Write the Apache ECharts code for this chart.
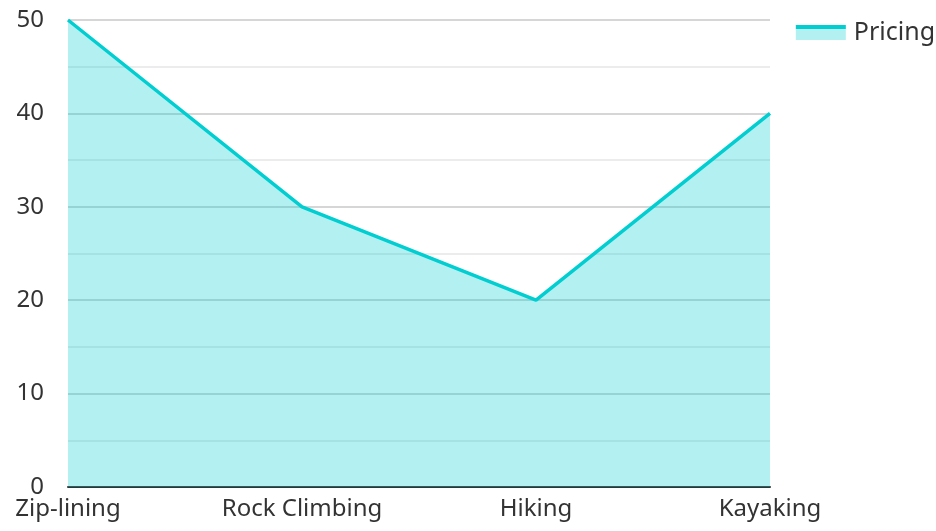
<!DOCTYPE html>
<html><head><meta charset="utf-8">
<script src="https://cdn.jsdelivr.net/npm/echarts@6/dist/echarts.min.js"></script>
<style>html,body{margin:0;padding:0;background:#fff}#c{width:936px;height:531px}</style>
</head><body><div id="c"></div>
<script>
const categories = ["Zip-lining", "Rock Climbing", "Hiking", "Kayaking"];
const pricing = [50, 30, 20, 40];
const seriesName = "Pricing";
const yTicks = [0, 10, 20, 30, 40, 50];

const chart = echarts.init(document.getElementById('c'), null, {renderer: 'canvas'});
const font = "'Noto Sans', sans-serif";
const teal = '#00CED1';
chart.setOption({
  animation: false,
  textStyle: {fontFamily: font},
  legend: {
    data: [{name: seriesName, icon: 'rect'}], right: -4, top: 15, itemWidth: 50, itemHeight: 15, itemGap: 8,
    itemStyle: {
      color: new echarts.graphic.LinearGradient(0, 0, 0, 1, [
        {offset: 0, color: teal}, {offset: 0.27, color: teal},
        {offset: 0.27, color: '#b2f0f1'}, {offset: 1, color: '#b2f0f1'}
      ]),
      borderWidth: 0
    },
    lineStyle: {opacity: 0},
    textStyle: {fontSize: 25, color: '#333', fontFamily: font, padding: [0, 0, 6, 3]}
  },
  grid: {left: 68, right: 166, top: 20, bottom: 44, containLabel: false},
  xAxis: {
    type: 'category', data: categories, boundaryGap: false,
    axisLine: {lineStyle: {color: '#333', width: 2}},
    axisTick: {show: false},
    axisLabel: {fontSize: 24, color: '#333', margin: 10, fontFamily: font},
    splitLine: {show: false}
  },
  yAxis: {
    type: 'value', min: yTicks[0], max: yTicks[yTicks.length-1], interval: 10,
    axisLine: {show: false}, axisTick: {show: false},
    axisLabel: {fontSize: 24, color: '#333', margin: 24, fontFamily: font},
    splitLine: {lineStyle: {color: '#c8c8c8', width: 1.5}},
    minorTick: {show: false, splitNumber: 2},
    minorSplitLine: {show: true, lineStyle: {color: '#e6e6e6', width: 1.5}}
  },
  series: [{
    name: seriesName, type: 'line', data: pricing, symbol: 'none',
    lineStyle: {color: teal, width: 3.5},
    itemStyle: {color: teal},
    areaStyle: {color: teal, opacity: 0.3}
  }]
});
</script></body></html>
